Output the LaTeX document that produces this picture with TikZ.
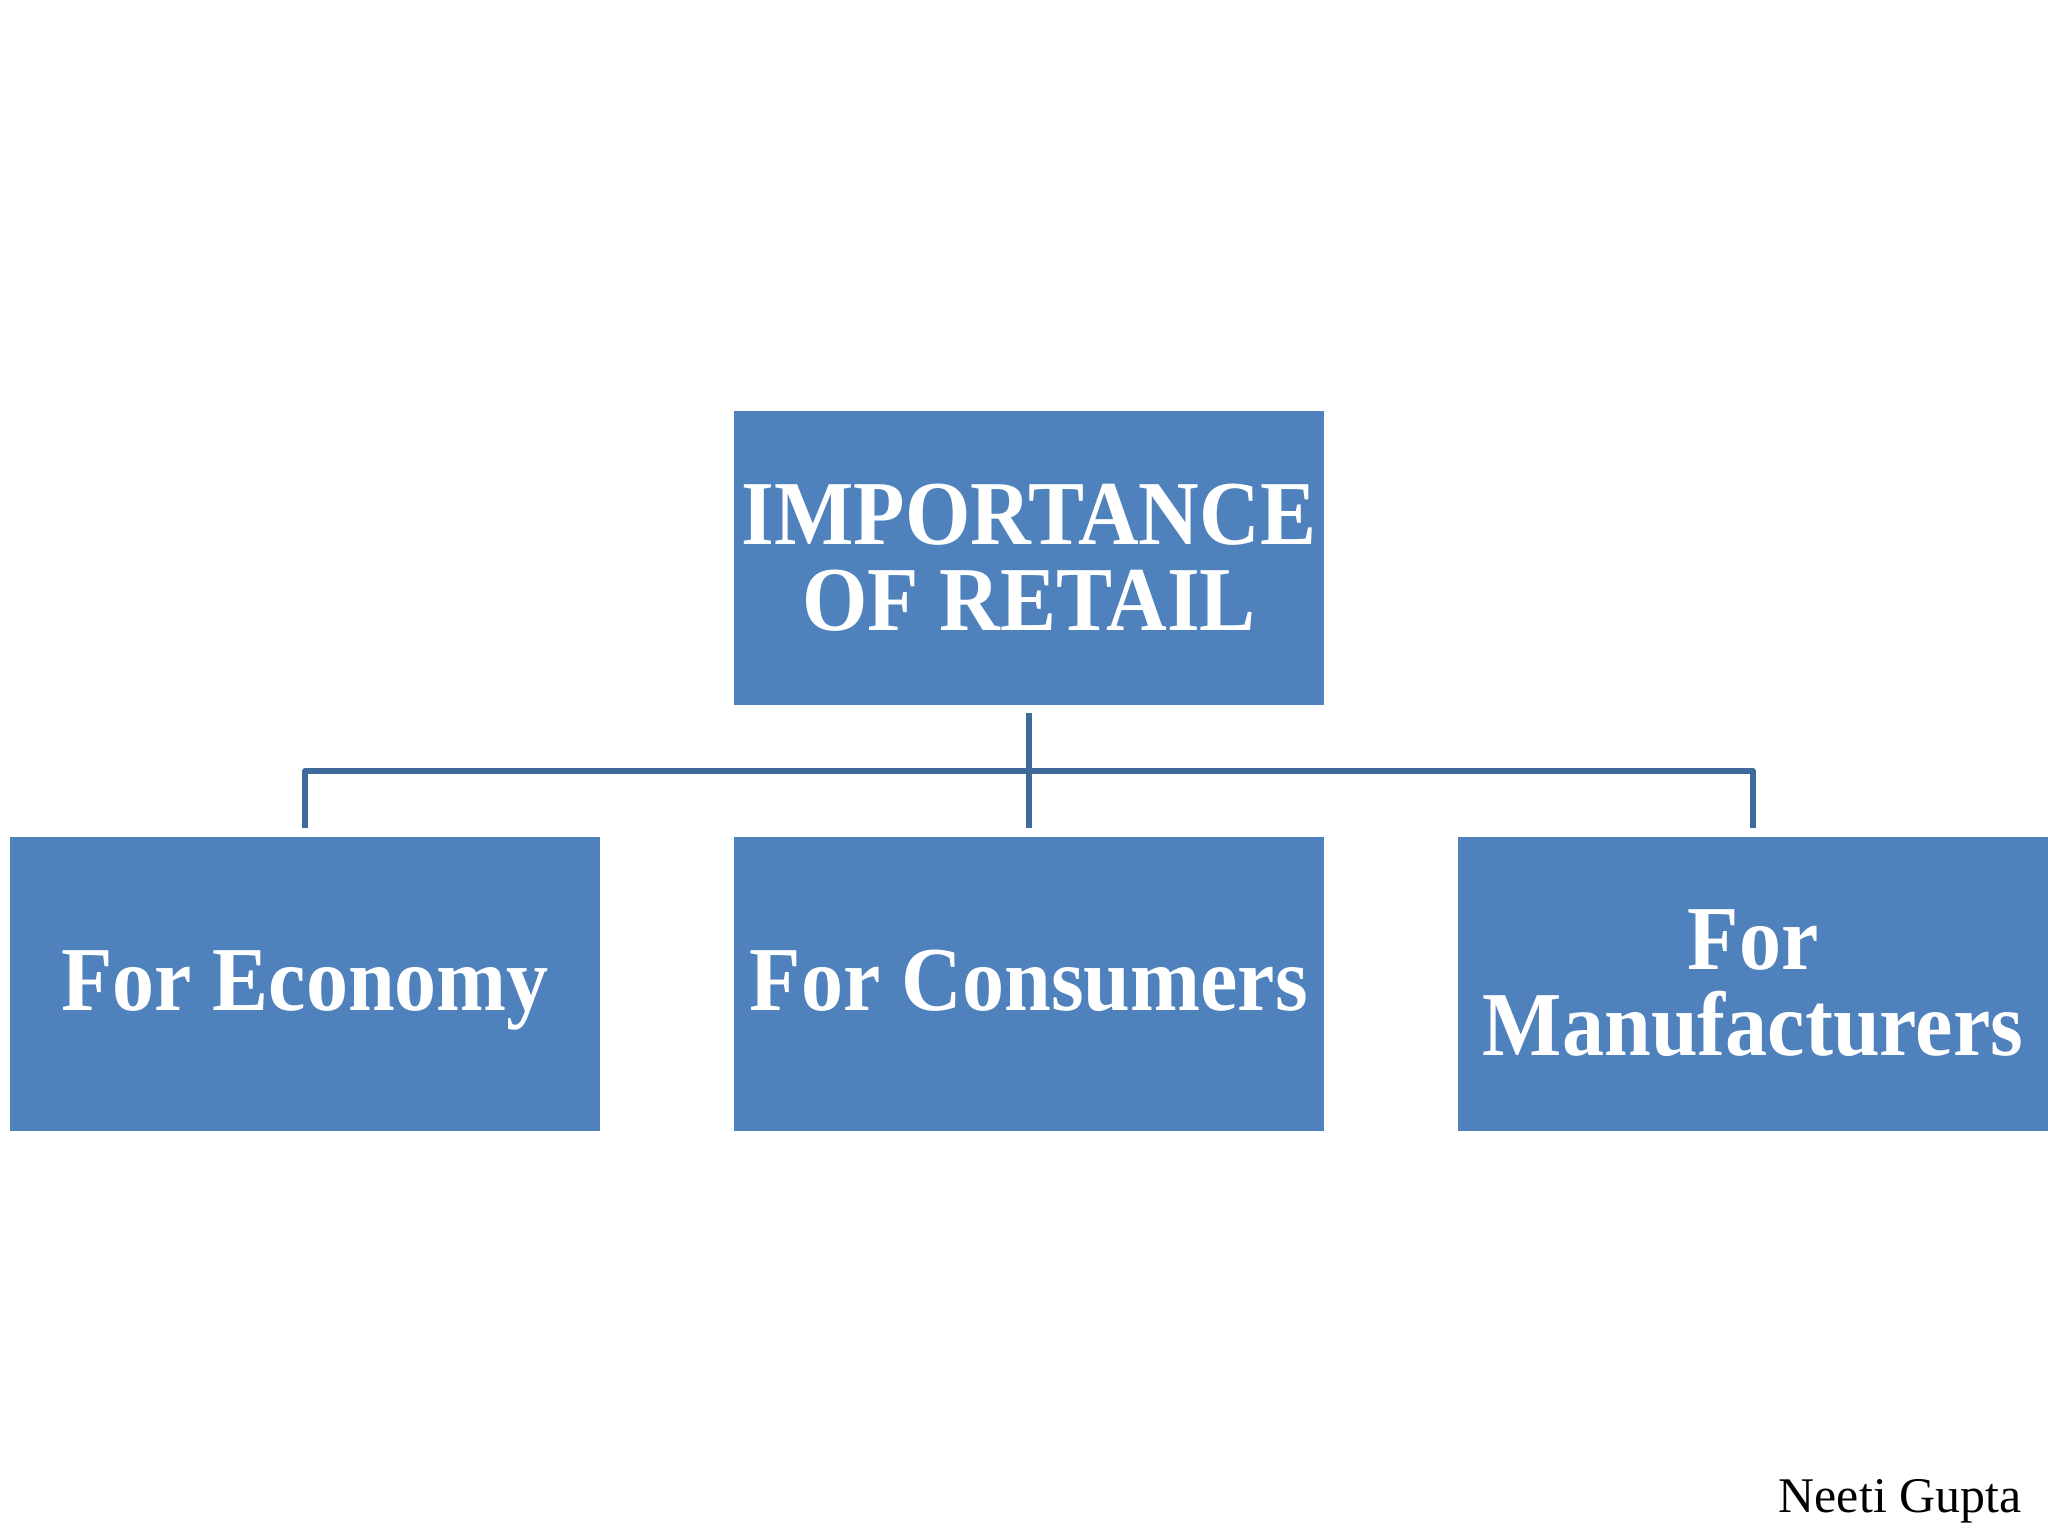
\documentclass[tikz,border=0pt]{standalone}
\usepackage{fontspec}
\setmainfont{Liberation Serif}
\newfontfamily\boxfont[FakeStretch=0.92]{Liberation Serif}
\definecolor{boxblue}{HTML}{4F81BD}
\definecolor{lineblue}{HTML}{3F6A9C}
\begin{document}
\begin{tikzpicture}[
  box/.style={rectangle, fill=boxblue, draw=none, minimum width=5.90cm, minimum height=2.94cm,
    inner sep=0pt, align=center, text=white, font=\boxfont\bfseries\fontsize{26}{24.5}\selectfont},
  onebox/.style={box, text height=0.70cm, text depth=0.17cm},
  conn/.style={draw=lineblue, line width=1.5pt, line join=round}
]
\useasboundingbox[fill=white] (0,0) rectangle (20.48,-15.36);
\node[box] (top) at (10.29,-5.58) {IMPORTANCE\\OF RETAIL};
\node[onebox] (eco) at (3.05,-9.835) {For Economy};
\node[onebox] (cons) at (10.29,-9.835) {For Consumers};
\node[box] (manu) at (17.53,-9.835) {For\\Manufacturers};
\coordinate (bar) at (10.29,-7.71);
\draw[conn, shorten <=0.07cm, shorten >=0.08cm] (top.south) -- (cons.north);
\draw[conn, shorten <=0.08cm, shorten >=0.08cm] (eco.north) |- (bar) -| (manu.north);
\node[anchor=base east, inner sep=0pt, font=\fontsize{14.2}{17}\selectfont] (author) at (20.22,-15.12) {Neeti Gupta};
\end{tikzpicture}
\end{document}
